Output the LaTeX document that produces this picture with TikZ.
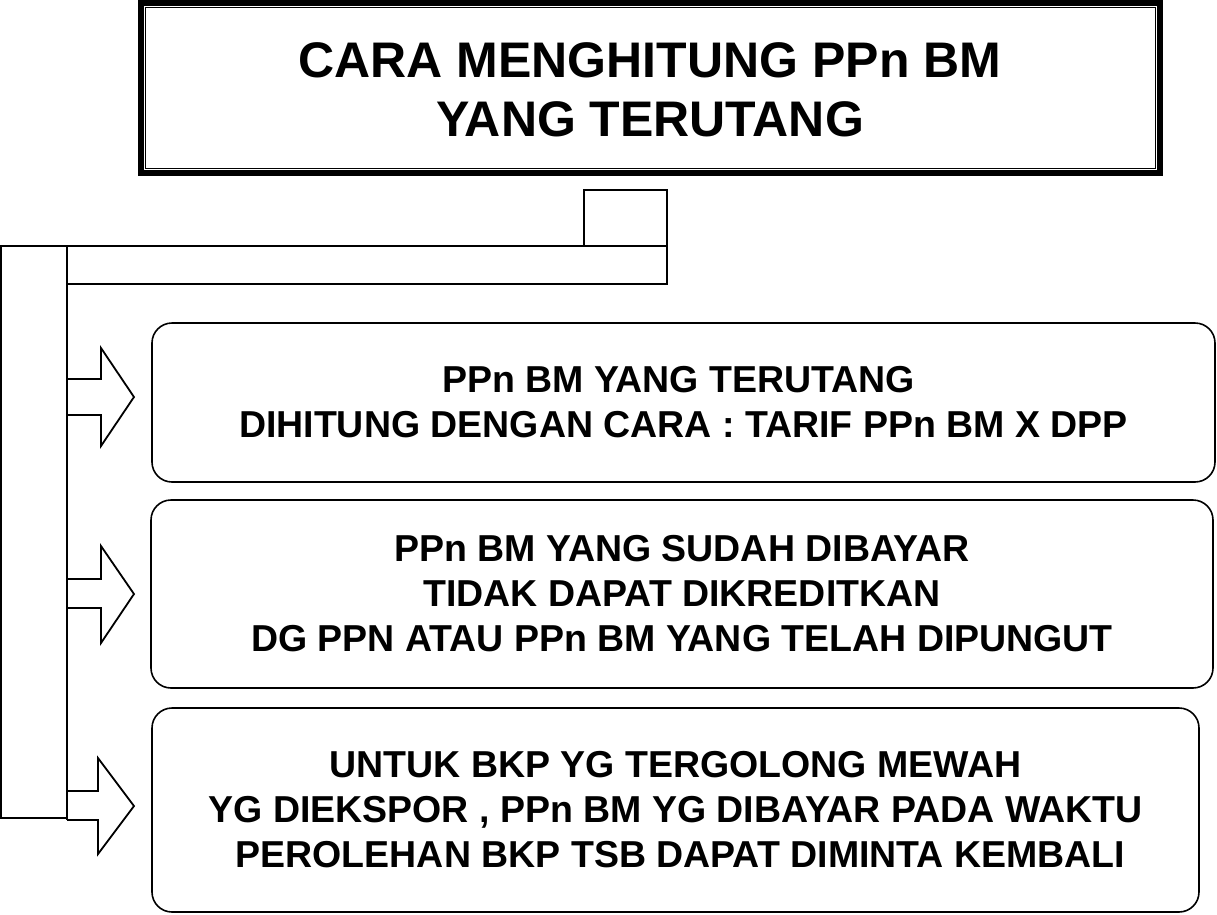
\documentclass[tikz,border=0pt]{standalone}
\usepackage{fontspec}
\setmainfont{Liberation Sans}
\begin{document}
\begin{tikzpicture}[x=1pt,y=-1pt,
  conn/.style={line width=2pt, line join=miter},
  barrow/.style={line width=1.8pt, line join=miter},
  rbox/.style={draw, line width=1.6pt, rounded corners=20pt, inner sep=0pt,
    align=center, font=\fontsize{37.5}{45}\selectfont\bfseries},
  ttl/.style={align=center, font=\fontsize{50}{59}\selectfont\bfseries, inner sep=0pt}]
\useasboundingbox (0,0) rectangle (1217,914);
% title
\draw[line width=6pt] (141,3) rectangle (1160,173);
\draw[line width=1.2pt] (145.5,7.5) rectangle (1155.5,168.5);
\node[ttl] (title) at (650,89.5) {CARA MENGHITUNG PPn BM\\YANG TERUTANG};
% boxes
\node[rbox, minimum width=1063pt, minimum height=159pt] (box1) at (683.5,402.5)
  {PPn BM YANG TERUTANG\hspace*{10pt}\\DIHITUNG DENGAN CARA : TARIF PPn BM X DPP};
\node[rbox, minimum width=1062pt, minimum height=188pt] (box2) at (682,594)
  {PPn BM YANG SUDAH DIBAYAR\\TIDAK DAPAT DIKREDITKAN\\DG PPN ATAU PPn BM YANG TELAH DIPUNGUT};
\node[rbox, minimum width=1047pt, minimum height=204pt] (box3) at (675.5,810)
  {UNTUK BKP YG TERGOLONG MEWAH\\YG DIEKSPOR , PPn BM YG DIBAYAR PADA WAKTU\\\hspace*{10pt}PEROLEHAN BKP TSB DAPAT DIMINTA KEMBALI};
% connector frame
\coordinate (sqA) at (584,246);
\coordinate (sqB) at (667,246);
\coordinate (inTop) at (67,246);
\coordinate (outTop) at (1,246);
\draw[conn] (sqA) -- (584,190) -- (667,190) -- (667,284) -- (67,284);
\draw[conn] (sqB) -- (outTop) -- (1,818) -- (67,818);
\draw[conn] (inTop) -- (67,820);
% block arrows
\draw[barrow] (67,379) -- (101,379) -- (101,348) -- (134,397) -- (101,446) -- (101,415) -- (67,415);
\draw[barrow] (67,579) -- (101,579) -- (101,546) -- (134,594) -- (101,643) -- (101,608) -- (67,608);
\draw[barrow] (67,791) -- (98,791) -- (98,758) -- (134,806) -- (98,854) -- (98,820) -- (67,820);
\end{tikzpicture}
\end{document}
